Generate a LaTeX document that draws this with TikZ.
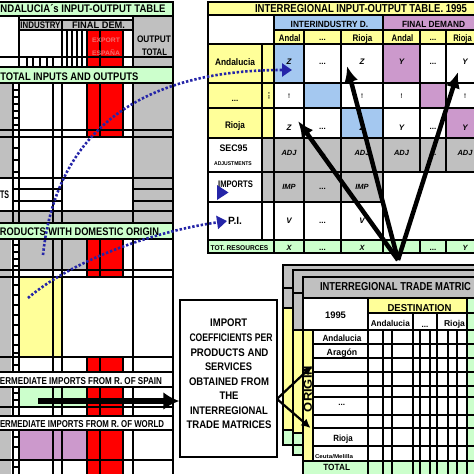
\documentclass[tikz,border=0pt]{standalone}
\usepackage{fontspec}
\setmainfont{Liberation Sans}
\usepackage{graphicx}
\usetikzlibrary{arrows.meta}
\definecolor{lgreen}{HTML}{CCFFCC}
\definecolor{lyellow}{HTML}{FFFF99}
\definecolor{lblue}{HTML}{A4C8F0}
\definecolor{lpurple}{HTML}{CC99CC}
\definecolor{lgray}{HTML}{C0C0C0}
\definecolor{dotblue}{HTML}{2525A8}
\definecolor{redtxt}{HTML}{F07070}
\newcommand{\fw}[2]{\resizebox{#1pt}{\height}{#2}}
\begin{document}
\begin{tikzpicture}[x=1pt,y=-1pt,
  gridL/.style={line width=1.1pt},
  gridR/.style={line width=1.4pt},
  lbl/.style={inner sep=0pt, outer sep=0pt, text height=0.69em, text depth=0pt},
  lblr/.style={inner sep=0pt, outer sep=0pt},
  ellip/.style={inner sep=0pt, outer sep=0pt, anchor=base, font=\bfseries\fontsize{8}{8}\selectfont},
  fz/.style={font=\bfseries\fontsize{#1}{#1}\selectfont},
  fi/.style={font=\bfseries\itshape\fontsize{#1}{#1}\selectfont},
  bigarrow/.style={line width=4.5pt, -{Latex[length=16pt,width=14pt]}},
  midarrow/.style={line width=5.5pt, -{Latex[length=16pt,width=18pt]}},
  smallarrow/.style={line width=2.2pt, -{Latex[length=9pt,width=9pt]}},
  dotarrow/.style={dotblue, line width=2.6pt, dash pattern=on 2.4pt off 1.9pt, -{Triangle[length=10pt,width=13pt]}},
]
\useasboundingbox (0,0) rectangle (474,474);
\clip (0,0) rectangle (474,474);
\fill[white] (0,0) rectangle (474,474);

%================ LEFT TABLE =================
\fill[lgray] (19,20) rectangle (133,30);
\fill[lgray] (133,16) rectangle (173,67);
\fill[red] (87,30) rectangle (123,67);
\fill[lgray] (-2,83) rectangle (13,178);
\fill[red] (87,83) rectangle (123,137);
\fill[lgray] (133,83) rectangle (173,211);
\fill[lgray] (-2,211) rectangle (173,223);
\fill[lgray] (-2,239) rectangle (10.5,474);
\fill[lgray] (19,239) rectangle (87,270);
\fill[red] (87,239) rectangle (123,277);
\fill[lyellow] (19,277) rectangle (62,357);
\fill[red] (87,357) rectangle (123,474);
\fill[lgreen] (19,387) rectangle (87,407);
\fill[lpurple] (19,430) rectangle (87,460);

\begin{scope}[gridL]
 \draw (-2,2) rectangle (173,476);
 \foreach \y in {16,57,67,83,130,137,178,211,223,239,270,277,357,407,460} \draw (-2,\y) -- (173,\y);
 \foreach \y in {189,201} {\draw (13,\y) -- (62,\y); \draw (133,\y) -- (173,\y);}
 \draw (19,20) rectangle (133,30); \draw (62,20) -- (62,30);
 \draw (19,16) -- (19,476);
 \draw (13,83) -- (13,476);
 \draw (53,57) -- (53,476);
 \draw (62,30) -- (62,476);
 \draw (133,16) -- (133,476);
 \foreach \x in {27,33,40,47} \draw (\x,57) -- (\x,67);
 \foreach \x in {67,72,77,82} \draw (\x,30) -- (\x,67);
 \foreach \a/\b in {30/67,83/137,239/277,357/476} {\draw (87,\a) rectangle (123,\b); \draw (100,\a) -- (100,\b);}
 \foreach \y in {90,97,104,111,118,125,148,160,172,245,252,259,266,285,295,305,315,325,335,345,353,365,393,400,437,447,467} \draw (13,\y) -- (19,\y);
 % bars on top
 \filldraw[fill=lgreen] (-2,2) rectangle (173,16);
 \filldraw[fill=lgreen] (-2,67) rectangle (173,83);
 \filldraw[fill=lgreen] (-2,223) rectangle (173,239);
 \filldraw[fill=white] (-2,372) rectangle (173,387);
 \filldraw[fill=white] (-2,416) rectangle (173,430);
\end{scope}

\node[lbl,fz=11,anchor=west] (lt1) at (0.5,9.5) {\fw{165}{NDALUCIA´s INPUT-OUTPUT TABLE}};
\node[lbl,fz=9.5] (lt2) at (40.5,25) {\fw{40}{INDUSTRY}};
\node[lbl,fz=9.5] (lt3) at (98.5,25) {\fw{53}{FINAL DEM.}};
\node[lbl,fz=9.5] (lt4) at (154,39.3) {\fw{34}{OUTPUT}};
\node[lbl,fz=9.5] (lt5) at (154.5,51.7) {\fw{25}{TOTAL}};
\node[lbl,fz=6.5,text=redtxt] (lt6) at (106,39.3) {\fw{28}{EXPORT}};
\node[lbl,fz=6.5,text=redtxt] (lt7) at (106,51.7) {\fw{28}{ESPAÑA}};
\node[lbl,fz=11,anchor=west] (lt8) at (0.3,77) {\fw{138}{TOTAL INPUTS AND OUTPUTS}};
\node[lbl,fz=11,anchor=west] (lt9) at (0,195) {\fw{9}{TS}};
\node[lbl,fz=11,anchor=west] (lt10) at (0,232.5) {\fw{159}{RODUCTS WITH DOMESTIC ORIGIN}};
\node[lbl,fz=10,anchor=west] (lt11) at (0,381.5) {\fw{162}{ERMEDIATE IMPORTS FROM R. OF SPAIN}};
\node[lbl,fz=10,anchor=west] (lt12) at (0,424) {\fw{164}{ERMEDIATE IMPORTS FROM R. OF WORLD}};

%================ RIGHT TABLE =================
\fill[lyellow] (208,2) rectangle (480,15);
\fill[white] (208,15) rectangle (274,44);
\fill[lblue] (274,15) rectangle (383,30);
\fill[lpurple] (383,15) rectangle (480,30);
\fill[lyellow] (274,30) rectangle (480,44);
\fill[lyellow] (208,44) rectangle (274,138);
\fill[lblue] (274,44) rectangle (304,83);
\fill[lblue] (304,83) rectangle (341,108);
\fill[lblue] (341,108) rectangle (383,138);
\fill[lpurple] (383,44) rectangle (420,83);
\fill[lpurple] (420,83) rectangle (446,108);
\fill[lpurple] (446,108) rectangle (480,138);
\fill[lgray] (262,138) rectangle (480,172);
\fill[lgray] (262,172) rectangle (383,202);
\fill[lgreen] (208,240) rectangle (480,253);
\begin{scope}[gridR]
 \draw (208,2) rectangle (480,253);
 \foreach \y in {15,44,83,108,138,172,240} \draw (208,\y) -- (480,\y);
 \draw (274,30) -- (480,30);
 \draw (208,202) -- (383,202);
 \draw (262,44) -- (262,240);
 \draw (274,15) -- (274,253); \draw (383,15) -- (383,253);
 \draw (304,30) -- (304,253); \draw (341,30) -- (341,253);
 \draw (420,30) -- (420,172); \draw (446,30) -- (446,172);
 \draw (420,240) -- (420,253); \draw (446,240) -- (446,253);
\end{scope}

\node[lbl,fz=11.5] (rt1) at (361,9.5) {\fw{212}{INTERREGIONAL INPUT-OUTPUT TABLE. 1995}};
\node[lbl,fz=9] (rt2) at (329.5,24.5) {\fw{77.6}{INTERINDUSTRY D.}};
\node[lbl,fz=9] (rt3) at (433.5,24.5) {\fw{63}{FINAL DEMAND}};
\node[lbl,fz=9.5] (rh1) at (289.8,38.5) {\fw{21.7}{Andal}};
\node[ellip] (rh2) at (322.5,40.5) {...};
\node[lbl,fz=9.5] (rh3) at (362.5,38.5) {\fw{19.6}{Rioja}};
\node[lbl,fz=9.5] (rh4) at (402.5,38.5) {\fw{21.7}{Andal}};
\node[ellip] (rh5) at (433,40.5) {...};
\node[lbl,fz=9.5] (rh6) at (462.5,38.5) {\fw{18.5}{Rioja}};

\node[lbl,fz=9.5] (rl1) at (235,62) {\fw{40}{Andalucia}};
\node[ellip] (rl2) at (235,101) {...};
\node[lbl,fz=9.5] (rl3) at (235,125.5) {\fw{20}{Rioja}};
\node[lblr,fz=8] (rl4) at (269,96) {\rotatebox{90}{...}};
\node[lbl,fz=9.5] (rl5) at (233.5,148) {\fw{28}{SEC95}};
\node[lbl,fz=5.5] (rl6) at (233,162) {\fw{37.7}{ADJUSTMENTS}};
\node[lbl,fz=9.5] (rl7) at (235.5,184.5) {\fw{34.7}{IMPORTS}};
\node[lbl,fz=10.5,anchor=west] (rl8) at (228,221.3) {\fw{14}{P.I.}};
\node[lbl,fz=7] (rl9) at (239.5,247) {\fw{57.6}{TOT. RESOURCES}};

% cells
\node[lbl,fi=8] (c11) at (289,61) {Z};
\node[ellip] (c12) at (322.5,64) {...};
\node[lbl,fi=8] (c13) at (362,61) {Z};
\node[lbl,fi=8] (c14) at (401.5,61.5) {Y};
\node[ellip] (c15) at (433,64) {...};
\node[lbl,fi=8] (c16) at (465,61.5) {Y};
\node[lblr,fz=7] (c21) at (289,96) {\rotatebox{90}{...}};
\node[lblr,fz=7] (c23) at (362,96) {\rotatebox{90}{...}};
\node[lblr,fz=7] (c24) at (401.5,96) {\rotatebox{90}{...}};
\node[lblr,fz=7] (c26) at (465,96) {\rotatebox{90}{...}};
\node[lbl,fi=8] (c31) at (289,127) {Z};
\node[ellip] (c32) at (322.5,129.5) {...};
\node[lbl,fi=8] (c33) at (362,127) {Z};
\node[lbl,fi=8] (c34) at (401.5,127) {Y};
\node[ellip] (c35) at (433,129.5) {...};
\node[lbl,fi=8] (c36) at (465,127) {Y};
\node[lbl,fi=7.5] (c41) at (289,152) {ADJ};
\node[ellip] (c42) at (322.5,155) {...};
\node[lbl,fi=7.5] (c43) at (362,152) {ADJ};
\node[lbl,fi=7.5] (c44) at (401.5,152) {ADJ};
\node[ellip] (c45) at (433,155) {...};
\node[lbl,fi=7.5] (c46) at (465,152) {ADJ};
\node[lbl,fi=7.5] (c51) at (289,186) {IMP};
\node[ellip] (c52) at (322.5,189) {...};
\node[lbl,fi=7.5] (c53) at (362,186) {IMP};
\node[lbl,fi=8] (c61) at (289,220) {V};
\node[ellip] (c62) at (322.5,223) {...};
\node[lbl,fi=8] (c63) at (362,220) {V};
\node[lbl,fi=7.5] (c71) at (289,247) {X};
\node[ellip] (c72) at (322.5,250) {...};
\node[lbl,fi=7.5] (c73) at (362,247) {X};
\node[ellip] (c75) at (433,250) {...};
\node[lbl,fi=7.5] (c76) at (465,247) {Y};

%================ TRADE MATRICES =================
\begin{scope}[line width=1.2pt]
 % back sheet
 \filldraw[fill=lgray] (283,265) rectangle (480,308);
 \filldraw[fill=lyellow] (283,308) rectangle (293,430);
 \filldraw[fill=lgreen] (283,430) rectangle (293,445);
 \draw (283,288) -- (293,288);
 \draw (283,265) rectangle (480,445);
 % middle sheet
 \filldraw[fill=lgray] (293,270) rectangle (480,330);
 \filldraw[fill=white] (303,330) rectangle (480,455);
 \filldraw[fill=lyellow] (293,330) rectangle (303,433);
 \filldraw[fill=lgreen] (293,433) rectangle (303,455);
 \draw (293,293) -- (303,293);
 \draw (293,445) -- (303,445);
 \draw (293,270) rectangle (480,455);
 % front sheet
 \filldraw[fill=white] (303,277) rectangle (480,480);
 \fill[lgray] (303,277) rectangle (480,298);
 \fill[lyellow] (368,298) rectangle (467,313);
 \fill[lgreen] (467,298) rectangle (480,480);
 \fill[lyellow] (303,330) rectangle (313,461);
 \fill[lgreen] (303,461) rectangle (480,480);
 \draw (303,277) rectangle (480,480);
 \draw (303,298) -- (480,298);
 \draw (368,313) -- (480,313);
 \draw (303,330) -- (480,330);
 \foreach \y in {344,358,372,386,397,415,428,446} \draw (313,\y) -- (480,\y);
 \draw (303,461) -- (480,461);
 \draw (313,330) -- (313,461);
 \draw (368,298) -- (368,480);
 \draw (413,313) -- (413,480); \draw (437,313) -- (437,480); \draw (467,298) -- (467,480);
 \foreach \x in {383,392,420,430,448,457} \draw (\x,330) -- (\x,480);
\end{scope}

\node[lbl,fz=11.5,anchor=west] (m1) at (320,286.7) {\fw{151}{INTERREGIONAL TRADE MATRIC}};
\node[lbl,fz=9.5] (m2) at (335.5,315.3) {\fw{21}{1995}};
\node[lbl,fz=10] (m3) at (419.5,308) {\fw{64}{DESTINATION}};
\node[lbl,fz=8.5] (m4) at (390.3,323) {\fw{39}{Andalucia}};
\node[ellip] (m5) at (425,327) {...};
\node[lbl,fz=8.5] (m6) at (454.5,323) {\fw{21}{Rioja}};
\node[lbl,fz=9] (m7) at (342,338) {\fw{39}{Andalucia}};
\node[lbl,fz=9] (m8) at (342,352) {\fw{30.6}{Aragón}};
\node[ellip] (m9) at (341.7,405.5) {...};
\node[lbl,fz=9] (m10) at (343,438.5) {\fw{19.4}{Rioja}};
\node[lbl,fz=5.5] (m11) at (334,455) {\fw{38}{Ceuta/Melilla}};
\node[lbl,fz=9] (m12) at (336.7,467.5) {\fw{26.7}{TOTAL}};
\node[lbl,fz=11.5,rotate=90] (m13) at (308.5,389) {\fw{46}{ORIGIN}};

%================ MIDDLE BOX =================
\node[draw, line width=1.4pt, minimum width=97pt, minimum height=157pt, inner sep=0pt] (box) at (228.5,378.5) {};
\node[lbl,fz=11] (b1) at (228.7,323) {\fw{37}{IMPORT}};
\node[lbl,fz=11] (b2) at (231,338) {\fw{83}{COEFFICIENTS PER}};
\node[lbl,fz=11] (b3) at (229.5,353) {\fw{78}{PRODUCTS AND}};
\node[lbl,fz=11] (b4) at (228.5,367) {\fw{47}{SERVICES}};
\node[lbl,fz=11] (b5) at (229,382) {\fw{80}{OBTAINED FROM}};
\node[lbl,fz=11] (b6) at (229,396) {\fw{19}{THE}};
\node[lbl,fz=11] (b7) at (229,411) {\fw{78}{INTERREGIONAL}};
\node[lbl,fz=11] (b8) at (229,425) {\fw{85}{TRADE MATRICES}};

%================ ARROWS =================
\coordinate (apex) at (398,260);
\coordinate (tA) at (298,121);
\coordinate (tB) at (347,66);
\coordinate (tC) at (458,72);
\draw[bigarrow] (apex) -- (tA);
\draw[bigarrow] (apex) -- (tB);
\draw[bigarrow] (apex) -- (tC);

\coordinate (ma) at (38,401);
\draw[midarrow] (ma) -- (ma -| box.west);

\coordinate (bx) at (277,399);
\coordinate (o1) at (312,366);
\coordinate (o2) at (310.5,428);
\draw[smallarrow] (bx) -- (o1);
\draw[smallarrow] (bx) -- (o2);

\coordinate (d1s) at (43,255);
\coordinate (d1e) at (292,70);
\draw[dotarrow] (d1s) .. controls (55,140) and (130,70) .. (d1e);
\coordinate (d2s) at (28,298);
\coordinate (d2e) at (227,221);
\draw[dotarrow] (d2s) .. controls (70,262) and (150,232) .. (d2e);
\fill[dotblue] (217,185) -- (228.5,192.5) -- (217,200) -- cycle;
\end{tikzpicture}
\end{document}
